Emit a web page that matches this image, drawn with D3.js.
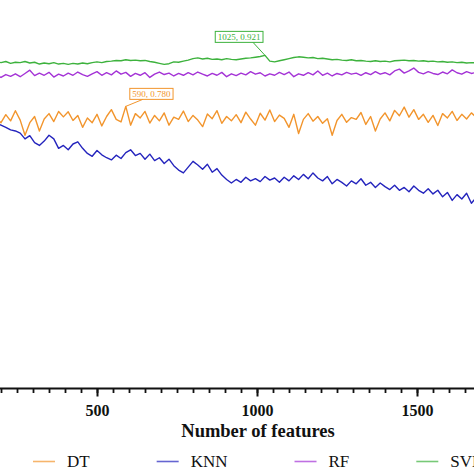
<!DOCTYPE html>
<html>
<head>
<meta charset="utf-8">
<script src="https://cdn.jsdelivr.net/npm/d3@7"></script>
<style>
    body { margin: 0; background: #fff; }
    svg { display: block; }
</style>
</head>
<body>
<script>
//number of features, first visible point and step
var firstFeature = 185,
    featureStep = 15;

//model names for the legend
var models = ["DT", "KNN", "RF", "SVM"];

//accuracy per model, one value every 15 features
var dtValues = [
    0.748,0.735,0.757,0.740,0.768, 0.742,0.700,0.735,0.752,0.712,
    0.745,0.760,0.738,0.766,0.751, 0.765,0.741,0.755,0.722,0.748,
    0.735,0.758,0.726,0.752,0.771, 0.744,0.737,0.780,0.728,0.760,
    0.748,0.766,0.734,0.755,0.740, 0.762,0.728,0.750,0.744,0.767,
    0.738,0.755,0.742,0.724,0.759, 0.746,0.768,0.733,0.752,0.740,
    0.757,0.735,0.764,0.745,0.728, 0.761,0.742,0.770,0.738,0.756,
    0.747,0.722,0.758,0.705,0.744, 0.760,0.739,0.752,0.733,0.746,
    0.700,0.741,0.758,0.736,0.749, 0.744,0.763,0.730,0.752,0.712,
    0.745,0.762,0.740,0.769,0.754, 0.778,0.750,0.771,0.744,0.758,
    0.736,0.755,0.727,0.760,0.748, 0.766,0.741,0.758,0.745,0.762,
    0.750
];
var knnValues = [
    0.734,0.728,0.722,0.715,0.712, 0.706,0.690,0.699,0.680,0.672,
    0.684,0.700,0.690,0.664,0.672, 0.660,0.676,0.682,0.664,0.650,
    0.642,0.658,0.646,0.638,0.632, 0.645,0.636,0.652,0.660,0.644,
    0.650,0.634,0.648,0.630,0.638, 0.622,0.634,0.616,0.604,0.596,
    0.612,0.628,0.618,0.606,0.620, 0.598,0.608,0.590,0.578,0.568,
    0.578,0.570,0.584,0.574,0.580, 0.572,0.586,0.576,0.582,0.570,
    0.584,0.574,0.588,0.578,0.592, 0.580,0.596,0.582,0.574,0.586,
    0.566,0.578,0.570,0.560,0.574, 0.566,0.580,0.562,0.570,0.556,
    0.568,0.558,0.550,0.562,0.548, 0.556,0.544,0.560,0.548,0.540,
    0.552,0.538,0.548,0.530,0.542, 0.520,0.536,0.524,0.540,0.512,
    0.528
];
var rfValues = [
    0.866,0.860,0.868,0.863,0.870, 0.862,0.871,0.880,0.865,0.872,
    0.866,0.874,0.861,0.869,0.864, 0.872,0.866,0.875,0.868,0.863,
    0.870,0.876,0.866,0.873,0.867, 0.878,0.869,0.874,0.863,0.871,
    0.866,0.873,0.860,0.869,0.875, 0.868,0.872,0.864,0.871,0.866,
    0.873,0.867,0.875,0.869,0.864, 0.871,0.866,0.874,0.862,0.870,
    0.865,0.872,0.867,0.876,0.869, 0.873,0.864,0.870,0.866,0.874,
    0.868,0.875,0.862,0.870,0.866, 0.873,0.867,0.878,0.866,0.872,
    0.864,0.871,0.867,0.874,0.869, 0.872,0.866,0.873,0.868,0.876,
    0.869,0.873,0.867,0.878,0.883, 0.872,0.878,0.886,0.874,0.870,
    0.876,0.871,0.868,0.875,0.870, 0.881,0.873,0.869,0.876,0.871,
    0.874
];
var svmValues = [
    0.904,0.901,0.904,0.899,0.902, 0.901,0.904,0.900,0.902,0.897,
    0.900,0.898,0.901,0.897,0.899, 0.896,0.899,0.897,0.900,0.898,
    0.901,0.903,0.901,0.904,0.905, 0.907,0.906,0.909,0.907,0.908,
    0.906,0.907,0.904,0.902,0.899, 0.896,0.898,0.903,0.902,0.905,
    0.908,0.912,0.914,0.911,0.913, 0.910,0.911,0.909,0.912,0.910,
    0.909,0.911,0.913,0.914,0.916, 0.918,0.921,0.905,0.903,0.906,
    0.909,0.912,0.915,0.917,0.916, 0.914,0.915,0.912,0.913,0.911,
    0.909,0.910,0.908,0.907,0.909, 0.906,0.907,0.905,0.904,0.906,
    0.904,0.905,0.903,0.906,0.907, 0.908,0.906,0.907,0.905,0.906,
    0.904,0.905,0.903,0.904,0.902, 0.903,0.901,0.902,0.900,0.901,
    0.900
];

//x axis tick labels and minor tick values
var xTickLabels = [500, 1000, 1500];
var xMinorTicks = d3.range(0, 1751, 50);

//the two labelled points
var callouts = [
    { model: "SVM", feature: 1025, value: 0.921 },
    { model: "DT", feature: 590, value: 0.780 }
];

window.onload = function(){

    //SVG dimensions
    var w = 474,
        h = 474;

    var colors = {
        DT: "#f2952d",
        KNN: "#2424bd",
        RF: "#a433d6",
        SVM: "#3db23d"
    };

    var series = {
        DT: dtValues,
        KNN: knnValues,
        RF: rfValues,
        SVM: svmValues
    };

    var svg = d3.select("body")
        .append("svg")
        .attr("width", w)
        .attr("height", h)
        .style("font-family", "'Liberation Serif', 'Times New Roman', serif");

    //scales (the plot is wider than the window, left part is cut off)
    var x = d3.scaleLinear()
        .domain([0, 1700])
        .range([-63, 481]);

    var y = d3.scaleLinear()
        .domain([0, 1])
        .range([388.5, 26.8]);

    var line = d3.line()
        .x(function(d){ return x(d.feature); })
        .y(function(d){ return y(d.value); });

    //one path per model
    models.forEach(function(m){
        var points = series[m].map(function(v, i){
            return { feature: firstFeature + i * featureStep, value: v };
        });
        svg.append("path")
            .datum(points)
            .attr("class", "line " + m)
            .attr("d", line)
            .style("fill", "none")
            .style("stroke", colors[m])
            .style("stroke-width", 1.4)
            .style("stroke-linejoin", "round");
    });

    //callout boxes
    callouts.forEach(function(c){
        var px = x(c.feature),
            py = y(c.value);
        var g = svg.append("g").attr("class", "callout");
        var label = g.append("text")
            .text(c.feature + ", " + c.value.toFixed(3))
            .style("font-size", "9px")
            .style("fill", colors[c.model]);
        var tw = label.node().getComputedTextLength();
        var bx, by, bw = tw + 5, bh = 11, tipX;
        if (c.model == "SVM") {
            bx = px - 2 - bw;
            by = py - 24;
            tipX = px - 12;
        } else {
            bx = px + 4;
            by = py - 18;
            tipX = px + 17;
        }
        g.insert("rect", "text")
            .attr("x", bx)
            .attr("y", by)
            .attr("width", bw)
            .attr("height", bh)
            .style("fill", "#fff")
            .style("stroke", colors[c.model])
            .style("stroke-width", 1);
        label.attr("x", bx + 2.5).attr("y", by + 8.5);
        g.append("line")
            .attr("x1", tipX)
            .attr("y1", by + bh)
            .attr("x2", px)
            .attr("y2", py)
            .style("stroke", colors[c.model])
            .style("stroke-width", 1);
    });

    //minor ticks
    svg.append("g")
        .attr("class", "axis minor")
        .attr("transform", "translate(0," + y(0) + ")")
        .call(d3.axisBottom(x).tickValues(xMinorTicks).tickSize(4.5).tickFormat(""))
        .call(function(g){ g.select(".domain").remove(); })
        .selectAll("line")
        .style("stroke", "#111")
        .style("stroke-width", 1.8);

    //major ticks with labels
    var xAxis = svg.append("g")
        .attr("class", "axis major")
        .attr("transform", "translate(0," + y(0) + ")")
        .call(d3.axisBottom(x)
            .tickValues(xTickLabels)
            .tickFormat(d3.format("d"))
            .tickSize(8)
            .tickPadding(8)
            .tickSizeOuter(0));

    xAxis.select(".domain")
        .attr("d", "M-70,0H" + (w + 10))
        .style("stroke", "#111")
        .style("stroke-width", 2.2);
    xAxis.selectAll(".tick line")
        .style("stroke", "#111")
        .style("stroke-width", 2);
    xAxis.selectAll(".tick text")
        .style("font-family", "'Liberation Serif', 'Times New Roman', serif")
        .style("font-size", "16px")
        .style("font-weight", "bold")
        .style("fill", "#111");

    //axis title
    svg.append("text")
        .attr("class", "xTitle")
        .attr("text-anchor", "middle")
        .attr("x", 258)
        .attr("y", 437)
        .style("font-size", "18.5px")
        .style("font-weight", "bold")
        .style("fill", "#111")
        .text("Number of features");

    //legend
    var lx = 33;
    models.forEach(function(m){
        var item = svg.append("g").attr("class", "legend");
        item.append("line")
            .attr("x1", lx)
            .attr("x2", lx + 22)
            .attr("y1", 461.5)
            .attr("y2", 461.5)
            .style("stroke", colors[m])
            .style("stroke-opacity", 0.7)
            .style("stroke-width", 1.6);
        var t = item.append("text")
            .attr("x", lx + 34)
            .attr("y", 467)
            .style("font-size", "17px")
            .style("fill", "#111")
            .text(m);
        lx += 34 + t.node().getComputedTextLength() + 67;
    });
};
</script>
</body>
</html>
